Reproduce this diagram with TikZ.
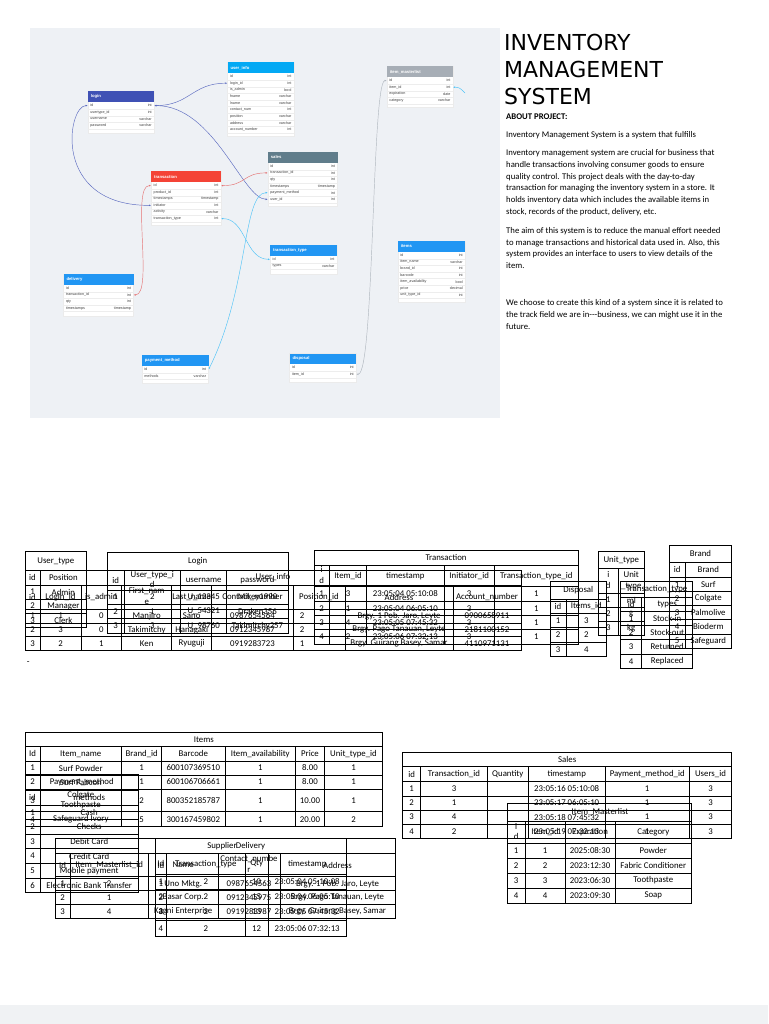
\documentclass[tikz,border=0pt]{standalone}
\usepackage{fontspec}
\setmainfont{Carlito}
\newfontfamily\titlefont{DejaVu Sans}
\newfontfamily\erfont{Liberation Sans}
\usetikzlibrary{arrows.meta,calc}
\definecolor{erBack}{HTML}{EEF1F5}
\definecolor{erNavy}{HTML}{3F51B5}
\definecolor{erSky}{HTML}{03A9F4}
\definecolor{erGray}{HTML}{A7AEB6}
\definecolor{erSlate}{HTML}{607D8B}
\definecolor{erRed}{HTML}{F44336}
\definecolor{erBlue}{HTML}{2196F3}
\definecolor{lnNavy}{HTML}{5C6BC0}
\definecolor{lnRed}{HTML}{E57373}
\definecolor{lnLight}{HTML}{4FC3F7}
\definecolor{lnGray}{HTML}{B0B7BF}
\definecolor{pageBand}{HTML}{F0F2F4}
\tikzset{
erbody/.style={fill=white,draw=black!8,line width=0.3pt},
erhead/.style={inner sep=0pt,minimum height=10.5},
ertitle/.style={inner sep=0pt,text=white,font=\erfont\bfseries\fontsize{4.2}{5}\selectfont},
errow/.style={inner sep=0pt,minimum height=6.6},
erfield/.style={inner sep=0pt,text=black!75,font=\erfont\fontsize{3.7}{4}\selectfont},
erline/.style={draw=black!7,line width=0.3pt},
erlink/.style={line width=0.45pt,{Latex[length=2pt,width=1.8pt]}-{Latex[length=2pt,width=1.8pt]}},
wline/.style={line width=0.7pt},
wtext/.style={inner sep=0pt,font=\fontsize{8.8}{10.5}\selectfont},
bodytext/.style={anchor=north west,inner sep=0pt,align=left,font=\fontsize{8.7}{11.67}\selectfont}
}
\newcommand{\twolines}[2]{\begin{tabular}{@{}c@{}}#1\\#2\end{tabular}}
% er table: name, left, top, width, colour, title, bottom, rows
\newcommand{\ertable}[8]{%
\filldraw[erbody] (#2,#3) rectangle ({#2+#4},#7);
\node[erhead,fill=#5,minimum width=#4,anchor=north west] (#1) at (#2,#3) {};
\node[ertitle,anchor=west] (#1-title) at ([xshift=3pt]#1.west) {#6};
\foreach \fld/\typ [count=\i] in {#8} {
\node[errow,minimum width=#4,anchor=north west] (#1-\i) at (#2,{#3+10.8+(\i-1)*6.6}) {};
\node[erfield,anchor=west] (#1-\i-f) at ([xshift=2.5pt]#1-\i.west) {\fld};
\node[erfield,anchor=east] (#1-\i-t) at ([xshift=-2.5pt]#1-\i.east) {\typ};
\draw[erline] (#1-\i.south west) -- (#1-\i.south east);
}}
% word table grid: left, right, top, head, bottom, row lines, column lines
\newcommand{\wgrid}[7]{%
\draw[wline] (#1,#3) rectangle (#2,#5);
\draw[wline] (#1,#4) -- (#2,#4);
\foreach \yy in {#6} {\draw[wline] (#1,\yy) -- (#2,\yy);}
\foreach \xx in {#7} {\draw[wline] (\xx,#4) -- (\xx,#5);}
}
\newcommand{\wrow}[3]{%
\foreach \xx/\cell [count=\cnt] in {#3} {\node[wtext] (#1-\cnt) at (\xx,#2) {\cell};}
}
\begin{document}
\begin{tikzpicture}[x=1pt,y=-1pt]
\useasboundingbox (0,0) rectangle (768,1024);
\fill[white] (0,0) rectangle (768,1024);
\fill[pageBand] (0,1005) rectangle (768,1024);
\fill[erBack] (30,28) rectangle (500,418);

\ertable{login}{87.7}{91.3}{66.3}{erNavy}{login}{133}{id/int, usertype\_id/int, username/varchar, password/varchar}
\ertable{userinfo}{227.3}{62.3}{66.4}{erSky}{user\_info}{136}{id/int, login\_id/int, is\_admin/bool, fname/varchar, lname/varchar, contact\_num/int, position/varchar, address/varchar, account\_number/int}
\ertable{itemml}{386.7}{66.3}{66}{erGray}{item\_masterlist}{107.3}{id/int, item\_id/int, expiration/date, category/varchar}
\ertable{sales}{267.7}{152}{69.6}{erSlate}{sales}{205.7}{id/int, transaction\_id/int, qty/int, timestamps/timestamp, payment\_method/int, user\_id/int}
\ertable{transaction}{151}{171.3}{69.7}{erRed}{transaction}{225}{id/int, product\_id/int, timestamps/timestamp, initiator/int, activity/varchar, transaction\_type/int}
\ertable{delivery}{63.3}{274}{70}{erBlue}{delivery}{315.7}{id/int, transaction\_id/int, qty/int, timestamps/timestamp}
\ertable{paymethod}{141.7}{355}{66.6}{erBlue}{payment\_method}{383.3}{id/int, methods/varchar}
\ertable{transtype}{270}{245}{66.7}{erBlue}{transaction\_type}{274}{id/int, types/varchar}
\ertable{items}{397.7}{241}{67.3}{erBlue}{items}{301.7}{id/int, item\_name/varchar, brand\_id/int, barcode/int, item\_availability/bool, price/decimal, unit\_type\_id/int}
\ertable{disposal}{289.3}{353.3}{66.7}{erBlue}{disposal}{381.7}{id/int, item\_id/int}

\coordinate (imstub) at (465,93);
\draw[erlink,lnNavy] (userinfo-2.west) .. controls +(-35,0) and +(35,0) .. (login-1.east);
\draw[erlink,lnNavy] (sales-6.west) .. controls +(-25,0) and +(60,0) .. (login-1.east);
\draw[erlink,lnNavy] (transaction-4.west) .. controls +(-100,0) and +(-20,0) .. (login-1.west);
\draw[erlink,lnRed] (sales-2.west) .. controls +(-25,0) and +(25,0) .. (transaction-1.east);
\draw[erlink,lnRed] (delivery-2.east) .. controls +(20,0) and +(-20,0) .. (transaction-1.west);
\draw[erlink,lnLight] (transaction-6.east) .. controls +(25,0) and +(-25,0) .. (transtype-1.west);
\draw[erlink,lnLight] (sales-5.west) .. controls +(-25,0) and +(40,-80) .. (paymethod-1.east);
\draw[erlink,lnGray] (disposal-2.east) .. controls +(18,0) and +(-15,0) .. (itemml-1.west);
\draw[erlink,lnLight,{Latex[length=2pt,width=1.8pt]}-] (itemml-2.east) .. controls +(6,0) and +(-5,-5) .. (imstub);

\node[anchor=north west,inner sep=0pt,align=left,font=\titlefont\fontsize{22}{27}\selectfont] (title) at (504,34) {INVENTORY\\MANAGEMENT\\SYSTEM};
\node[bodytext] (about) at (506,114) {\textbf{ABOUT PROJECT:}};
\node[bodytext] (para1) at (506,131) {Inventory Management System is a system that fulfills};
\node[bodytext] (para2) at (506,149.7) {Inventory management system are crucial for business that\\handle transactions involving consumer goods to ensure\\quality control. This project deals with the day-to-day\\transaction for managing the inventory system in a store. It\\holds inventory data which includes the available items in\\stock, records of the product, delivery, etc.};
\node[bodytext] (para3) at (506,227.3) {The aim of this system is to reduce the manual effort needed\\to manage transactions and historical data used in. Also, this\\system provides an interface to users to view details of the\\item.};
\node[bodytext] (para4) at (506,299.7) {We choose to create this kind of a system since it is related to\\the track field we are in-{}-{}-business, we can might use it in the\\future.};

\wgrid{25}{86.7}{551.7}{570.7}{627.3}{584.9,599,613.2}{40}
\node[wtext] (ut-t) at (55.8,561.2) {User\_type};
\wrow{ut-1}{577.8}{32.5/id, 63.4/Position}
\wrow{ut-2}{592}{32.5/1, 63.4/Admin}
\wrow{ut-3}{606.1}{32.5/2, 63.4/Manager}
\wrow{ut-4}{620.2}{32.5/3, 63.4/Clerk}

\wgrid{107.3}{288.3}{552.7}{570.7}{633}{590,604,618.5}{124,180.7,226.7}
\node[wtext] (lg-t) at (197.8,561.7) {Login};
\wrow{lg-1}{580.3}{115.7/id, 152.3/\twolines{User\_type\_i}{d}, 203.7/username, 257.5/password}
\wrow{lg-2}{597}{115.7/1, 152.3/2, 203.7/U\_12345, 257.5/Mikey1990}
\wrow{lg-3}{611.2}{115.7/2, 152.3/1, 203.7/U\_54321, 257.5/Draken356}
\wrow{lg-4}{625.8}{115.7/3, 152.3/3, 203.7/U\_98760, 257.5/Takimitchy257}

\wgrid{25}{521}{570}{585}{650}{609,623,636.5}{40,81,121.7,171.7,211.7,293.3,345,453}
\node[wtext] (ui-t) at (273,577.5) {User\_info};
\wrow{ui-1}{597}{32.5/id, 60.5/Login\_id, 101.4/is\_admin, 146.7/\twolines{First\_nam}{e}, 191.7/Last\_name, 252.5/Contact\_number, 319/Position\_id, 399/Address, 487/Account\_number}
\wrow{ui-2}{616}{32.5/1, 60.5/1, 101.4/0, 146.7/Manjiro, 191.7/Sano, 252.5/0987654564, 302/2, 399/{Brgy. 1 Pob. Jaro, Leyte}, 487/0900658911}
\wrow{ui-3}{629.8}{32.5/2, 60.5/3, 101.4/0, 146.7/Takimitchy, 191.7/Hanagaki, 252.5/0912345987, 302/2, 399/{Brgy. Pago Tanauan, Leyte}, 487/2181100152}
\wrow{ui-4}{643.3}{32.5/3, 60.5/2, 101.4/1, 146.7/Ken, 191.7/Ryuguji, 252.5/0919283723, 302/1, 399/{Brgy. Guirang Basey, Samar}, 487/4110971131}

\wgrid{314}{578.3}{550.7}{565}{644}{586.7,601,615.3,629.7}{329.3,366.7,444,494.3}
\node[wtext] (tr-t) at (446,557.8) {Transaction};
\wrow{tr-1}{575.8}{321.7/\twolines{i}{d}, 348/Item\_id, 405.3/timestamp, 469.2/Initiator\_id, 536.3/Transaction\_type\_id}
\wrow{tr-2}{593.8}{321.7/1, 348/3, 405.3/23:05:04 05:10:08, 469.2/3, 536.3/1}
\wrow{tr-3}{608.2}{321.7/2, 348/1, 405.3/23:05:04 06:05:10, 469.2/3, 536.3/1}
\wrow{tr-4}{622.5}{321.7/3, 348/4, 405.3/23:05:05 07:45:32, 469.2/3, 536.3/1}
\wrow{tr-5}{636.8}{321.7/4, 348/2, 405.3/23:05:06 07:32:13, 469.2/3, 536.3/1}

\wgrid{550}{606.7}{581.7}{599.3}{656.3}{613.3,627.7,642}{566}
\node[wtext] (dp-t) at (578.3,590.5) {Disposal};
\wrow{dp-1}{606.3}{558/id, 586.3/Items\_id}
\wrow{dp-2}{620.5}{558/1, 586.3/3}
\wrow{dp-3}{634.8}{558/2, 586.3/2}
\wrow{dp-4}{649.2}{558/3, 586.3/4}

\wgrid{598.3}{644.3}{551.7}{568.3}{635}{593,607,621}{618.3}
\node[wtext] (un-t) at (621.3,560) {Unit\_type};
\wrow{un-1}{580.7}{608.3/\twolines{i}{d}, 631.3/\twolines{Unit}{\_type}}
\wrow{un-2}{600}{608.3/1, 631.3/ml}
\wrow{un-3}{614}{608.3/2, 631.3/g}
\wrow{un-4}{628}{608.3/3, 631.3/kg}

\wgrid{620.7}{692.7}{581.7}{597}{668.3}{611,625.3,639.7,654}{641.7}
\node[wtext] (tt-t) at (656.7,589.3) {Transaction\_type};
\wrow{tt-1}{604}{631.2/id, 667.2/types}
\wrow{tt-2}{618.2}{631.2/1, 667.2/Stock-in}
\wrow{tt-3}{632.5}{631.2/2, 667.2/Stock-out}
\wrow{tt-4}{646.8}{631.2/3, 667.2/Returned}
\wrow{tt-5}{661.2}{631.2/4, 667.2/Replaced}

\wgrid{669.3}{731.7}{545}{562.7}{648.3}{577,591.3,605.5,619.8,634}{685}
\node[wtext] (br-t) at (700.5,553.8) {Brand};
\wrow{br-1}{569.8}{677.2/id, 708.3/Brand}
\wrow{br-2}{584.2}{677.2/1, 708.3/Surf}
\wrow{br-3}{598.4}{677.2/2, 708.3/Colgate}
\wrow{br-4}{612.7}{677.2/3, 708.3/Palmolive}
\wrow{br-5}{626.9}{677.2/4, 708.3/Bioderm}
\wrow{br-6}{641.2}{677.2/5, 708.3/Safeguard}

\node[wtext] (dash) at (28.3,663) {-};

\wgrid{25}{382.7}{732.3}{746.7}{826.7}{761,775,789,811.7}{40,121.7,161.7,225,295.7,324.3}
\node[wtext] (it-t) at (203.8,739.5) {Items};
\wrow{it-1}{753.8}{32.5/Id, 80.8/Item\_name, 141.7/Brand\_id, 193.3/Barcode, 260.3/Item\_availability, 310/Price, 353.5/Unit\_type\_id}
\wrow{it-2}{768}{32.5/1, 80.8/Surf Powder, 141.7/1, 193.3/600107369510, 260.3/1, 310/8.00, 353.5/1}
\wrow{it-3}{782}{32.5/2, 80.8/Surf Fabcon, 141.7/1, 193.3/600106706661, 260.3/1, 310/8.00, 353.5/1}
\wrow{it-4}{800.3}{32.5/3, 80.8/\twolines{Colgate}{Toothpaste}, 141.7/2, 193.3/800352185787, 260.3/1, 310/10.00, 353.5/1}
\wrow{it-5}{819.2}{32.5/4, 80.8/Safeguard Ivory, 141.7/5, 193.3/300167459802, 260.3/1, 310/20.00, 353.5/2}

\wgrid{25}{138.3}{774.3}{790}{892.5}{805,819.6,834.2,848.8,863.4,878}{40}
\node[wtext] (pm-t) at (81.7,782.2) {Payment\_method};
\wrow{pm-1}{797.5}{32.5/id, 89.2/methods}
\wrow{pm-2}{812.3}{32.5/1, 89.2/Cash}
\wrow{pm-3}{826.9}{32.5/2, 89.2/Checks}
\wrow{pm-4}{841.5}{32.5/3, 89.2/Debit Card}
\wrow{pm-5}{856.1}{32.5/4, 89.2/Credit Card}
\wrow{pm-6}{870.7}{32.5/5, 89.2/Mobile payment}
\wrow{pm-7}{885.3}{32.5/6, 89.2/Electronic Bank Transfer}

\wgrid{55}{148.3}{853.3}{853.3}{918.3}{876.7,890.7,904.7}{70}
\wrow{ml-1}{865}{62.5/Id, 109.2/Item\_Masterlist\_id}
\wrow{ml-2}{883.7}{62.5/1, 109.2/2}
\wrow{ml-3}{897.7}{62.5/2, 109.2/1}
\wrow{ml-4}{911.5}{62.5/3, 109.2/4}

\wgrid{55}{395}{838.3}{853.3}{918.7}{876.7,890.7,904.7}{148.3,218,280}
\node[wtext] (sp-t) at (222,845.8) {Supplier};
\wrow{sp-1}{865}{160.8/Id, 183.2/Name, 249/\twolines{Contact\_numbe}{r}, 337.5/Address}
\wrow{sp-2}{883.7}{160.8/1, 183.2/Uno Mktg., 249/0987654563, 337.5/{Brgy. 1 Pob. Jaro, Leyte}}
\wrow{sp-3}{897.7}{160.8/2, 183.2/Basar Corp., 249/0912345975, 337.5/{Brgy. Pago Tanauan, Leyte}}
\wrow{sp-4}{911.7}{160.8/3, 183.2/Kagni Enterprise, 249/0919283987, 337.5/{Brgy. Guirang Basey, Samar}}

\wgrid{155}{346}{838.3}{853.3}{936.7}{874,889,904,920}{166.7,245,268.3}
\node[wtext] (dl-t) at (250.5,845.8) {Delivery};
\wrow{dl-1}{863.7}{160.8/Id, 205.8/Transaction\_type, 256.7/Qty, 307.2/timestamp}
\wrow{dl-2}{881.5}{160.8/1, 205.8/2, 256.7/10, 307.2/23:05:04 05:10:08}
\wrow{dl-3}{896.5}{160.8/2, 205.8/2, 256.7/15, 307.2/23:05:04 06:05:10}
\wrow{dl-4}{912}{160.8/3, 205.8/2, 256.7/13, 307.2/23:05:05 07:45:32}
\wrow{dl-5}{928.3}{160.8/4, 205.8/2, 256.7/12, 307.2/23:05:06 07:32:13}

\wgrid{402.7}{731.7}{752.3}{766.7}{838.3}{781.7,795.9,810,824.2}{420.7,487.3,528.3,605,689.3}
\node[wtext] (sl-t) at (567.2,759.5) {Sales};
\wrow{sl-1}{774.2}{411.7/id, 454/Transaction\_id, 507.8/Quantity, 566.7/timestamp, 647.2/Payment\_method\_id, 710.5/Users\_id}
\wrow{sl-2}{788.8}{411.7/1, 454/3, 566.7/23:05:16 05:10:08, 647.2/1, 710.5/3}
\wrow{sl-3}{802.9}{411.7/2, 454/1, 566.7/23:05:17 06:05:10, 647.2/1, 710.5/3}
\wrow{sl-4}{817.1}{411.7/3, 454/4, 566.7/23:05:18 07:45:32, 647.2/1, 710.5/3}
\wrow{sl-5}{831.3}{411.7/4, 454/2, 566.7/23:05:19 07:32:13, 647.2/1, 710.5/3}

\wgrid{507.3}{691.7}{803.3}{821}{903}{843.3,858,873,888}{525,565,615}
\node[wtext] (im-t) at (600,812.2) {Item\_Masterlist};
\wrow{im-1}{832.2}{516.2/\twolines{i}{d}, 545/Item\_id, 590/Expiration, 653.3/Category}
\wrow{im-2}{850.7}{516.2/1, 545/1, 590/2025:08:30, 653.3/Powder}
\wrow{im-3}{865.5}{516.2/2, 545/2, 590/2023:12:30, 653.3/Fabric Conditioner}
\wrow{im-4}{880.5}{516.2/3, 545/3, 590/2023:06:30, 653.3/Toothpaste}
\wrow{im-5}{895.5}{516.2/4, 545/4, 590/2023:09:30, 653.3/Soap}
\end{tikzpicture}
\end{document}
